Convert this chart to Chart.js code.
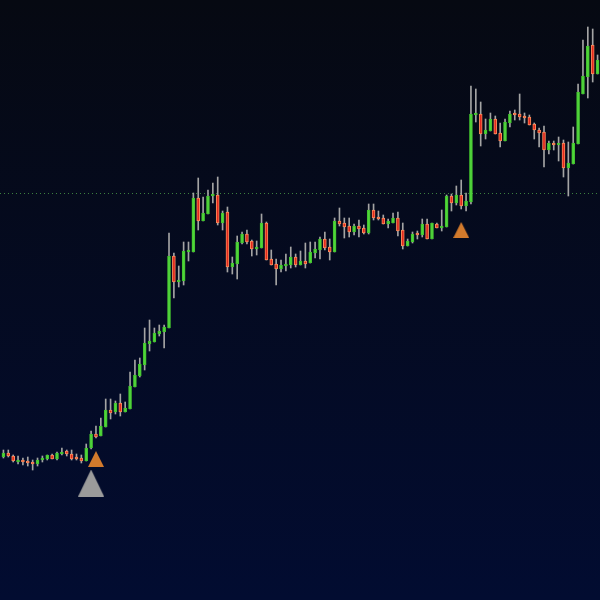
<!DOCTYPE html>
<html>
<head>
<meta charset="utf-8">
<script src="https://cdn.jsdelivr.net/npm/chart.js@4/dist/chart.umd.min.js"></script>
<style>
  html, body { margin: 0; padding: 0; background: #050914; }
  #wrap { width: 600px; height: 600px; }
</style>
</head>
<body>
<div id="wrap"><canvas id="candles"></canvas></div>
<script>
// candle values (price units, arbitrary)
const openPrices = [
  143, 147, 144, 138, 140, 138, 138, 136, 140, 141, 145, 141, 146, 149, 146, 143, 142, 139, 152, 166,
  164, 173, 190, 188, 197, 188, 191, 213, 224, 235, 256, 258, 266, 268, 272, 344, 318, 319, 348, 348,
  402, 379, 386, 404, 405, 377, 388, 333, 336, 357, 366, 359, 351, 352, 377, 341, 336, 331, 334, 335,
  343, 335, 339, 337, 347, 350, 361, 353, 348, 379, 377, 374, 368, 374, 372, 367, 390, 383, 382, 376,
  377, 382, 370, 354, 358, 367, 365, 376, 361, 376, 372, 373, 404, 397, 405, 394, 398, 485, 486, 466,
  469, 481, 467, 459, 477, 486, 486, 484, 483, 476, 470, 468, 450, 457, 455, 457, 432, 436, 456, 506,
  523, 555, 526
];
const closePrices = [
  147, 144, 139, 140, 138, 137, 136, 140, 142, 145, 141, 147, 148, 146, 141, 141, 139, 152, 166, 163,
  174, 190, 187, 197, 188, 192, 214, 225, 236, 257, 259, 267, 269, 273, 344, 318, 320, 349, 349, 402,
  379, 387, 404, 405, 377, 387, 333, 337, 358, 366, 358, 351, 353, 377, 340, 335, 331, 335, 336, 343,
  335, 339, 336, 348, 351, 361, 352, 348, 379, 376, 373, 368, 374, 371, 367, 390, 382, 381, 376, 379,
  382, 369, 354, 359, 366, 365, 376, 361, 377, 372, 374, 404, 397, 405, 394, 399, 486, 486, 466, 470,
  481, 466, 459, 478, 486, 485, 483, 482, 475, 470, 467, 450, 457, 455, 457, 432, 437, 457, 508, 524,
  554, 526, 540
];
const highPrices = [
  150, 150, 145, 144, 142, 143, 140, 142, 144, 145, 146, 148, 152, 150, 150, 146, 145, 156, 169, 174,
  182, 201, 201, 199, 206, 198, 228, 240, 242, 272, 280, 272, 275, 275, 367, 347, 334, 358, 358, 407,
  422, 403, 410, 417, 423, 389, 393, 343, 364, 368, 370, 360, 359, 386, 378, 350, 341, 340, 346, 353,
  346, 349, 357, 358, 358, 363, 368, 361, 382, 392, 382, 382, 376, 380, 375, 396, 396, 389, 385, 381,
  387, 388, 377, 361, 368, 369, 381, 381, 377, 377, 390, 405, 406, 414, 420, 407, 514, 511, 498, 481,
  487, 484, 477, 481, 489, 490, 506, 487, 485, 477, 472, 474, 459, 459, 463, 460, 458, 473, 516, 560,
  573, 571, 545
];
const lowPrices = [
  142, 143, 138, 136, 135, 134, 130, 134, 138, 140, 141, 140, 145, 144, 140, 140, 137, 139, 151, 162,
  164, 173, 181, 186, 184, 188, 191, 213, 223, 230, 249, 258, 264, 252, 272, 302, 313, 315, 339, 348,
  370, 379, 386, 397, 375, 370, 328, 326, 321, 356, 356, 344, 345, 352, 340, 335, 315, 328, 329, 332,
  333, 335, 332, 337, 342, 341, 350, 340, 348, 374, 362, 363, 365, 363, 366, 366, 380, 380, 376, 372,
  377, 364, 351, 354, 357, 361, 363, 361, 361, 372, 369, 373, 389, 395, 391, 389, 396, 478, 454, 461,
  469, 466, 453, 459, 473, 480, 480, 477, 475, 461, 453, 433, 446, 450, 439, 423, 404, 436, 456, 506,
  502, 518, 526
];

// signal markers: candle index and price level
const greyMarkerIdx = [18];
const greyMarkerPrice = [117];
const orangeMarkerIdx = [19, 94];
const orangeMarkerPrice = [141, 370];

// dotted reference level
const refLevel = 407;

const candleLabels = openPrices.map((_, i) => String(i + 1));

const UP_FILL = '#4fd63a';
const UP_EDGE = '#43c12f';
const DOWN_FILL = '#e3281e';
const DOWN_EDGE = '#f98d5c';
const WICK = '#a4a4a4';

function triangleImage(w, h, color) {
    const c = document.createElement('canvas');
    c.width = w;
    c.height = h;
    const g = c.getContext('2d');
    g.fillStyle = color;
    g.beginPath();
    g.moveTo(w / 2, 0);
    g.lineTo(w, h);
    g.lineTo(0, h);
    g.closePath();
    g.fill();
    return c;
}

function markerSeries(idx, prices) {
    const out = candleLabels.map(() => null);
    idx.forEach((k, j) => { out[k] = prices[j]; });
    return out;
}

const isUp = openPrices.map((o, i) => closePrices[i] >= o);

// background gradient + dotted level line
const backdrop = {
    id: 'backdrop',
    beforeDraw(chart) {
        const { ctx, width, height } = chart;
        const grad = ctx.createLinearGradient(0, 0, 0, height);
        grad.addColorStop(0, '#060912');
        grad.addColorStop(1, '#020c31');
        ctx.save();
        ctx.fillStyle = grad;
        ctx.fillRect(0, 0, width, height);
        ctx.restore();
    },
    beforeDatasetsDraw(chart) {
        const { ctx, width } = chart;
        const y = Math.round(chart.scales.y.getPixelForValue(refLevel)) + 0.5;
        ctx.save();
        ctx.strokeStyle = 'rgba(70, 150, 70, 0.85)';
        ctx.lineWidth = 1;
        ctx.setLineDash([1, 3]);
        ctx.beginPath();
        ctx.moveTo(0, y);
        ctx.lineTo(width, y);
        ctx.stroke();
        ctx.restore();
    },
};

const ctx = document.getElementById('candles').getContext('2d');

new Chart(ctx, {
    type: 'bar',
    data: {
        labels: candleLabels,
        datasets: [
            {
                label: 'body',
                data: openPrices.map((o, i) => [o, closePrices[i]]),
                backgroundColor: isUp.map(u => (u ? UP_FILL : DOWN_FILL)),
                borderColor: isUp.map(u => (u ? UP_EDGE : DOWN_EDGE)),
                borderWidth: 1,
                borderSkipped: false,
                barThickness: 3,
                minBarLength: 2,
                grouped: false,
                order: 1,
            },
            {
                label: 'wick',
                data: lowPrices.map((l, i) => [l, highPrices[i]]),
                backgroundColor: WICK,
                borderWidth: 0,
                barThickness: 1,
                grouped: false,
                order: 2,
            },
            {
                type: 'line',
                label: 'grey signal',
                data: markerSeries(greyMarkerIdx, greyMarkerPrice),
                showLine: false,
                pointStyle: triangleImage(26, 27, '#9b9b9b'),
                order: 0,
            },
            {
                type: 'line',
                label: 'orange signal',
                data: markerSeries(orangeMarkerIdx, orangeMarkerPrice),
                showLine: false,
                pointStyle: triangleImage(16, 16, '#d27a2c'),
                order: 0,
            },
        ],
    },
    options: {
        responsive: true,
        maintainAspectRatio: false,
        animation: false,
        layout: { padding: { left: 1 }, autoPadding: false },
        plugins: {
            legend: { display: false },
            tooltip: { enabled: false },
        },
        scales: {
            x: { display: false, offset: true },
            y: { display: false, min: 0, max: 600 },
        },
    },
    plugins: [backdrop],
});
</script>
</body>
</html>
